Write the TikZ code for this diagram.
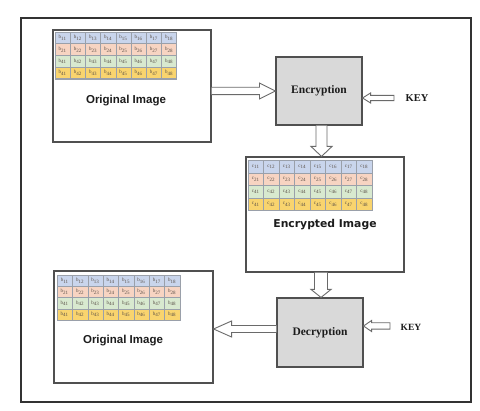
\documentclass[tikz,border=0pt]{standalone}
\usepackage{fontspec}
\setmainfont{Liberation Serif}
\newfontfamily\arialf{Liberation Sans}
\newfontfamily\dejaf{DejaVu Sans}
\usetikzlibrary{calc}
\definecolor{boxline}{HTML}{505050}
\definecolor{frameline}{HTML}{333333}
\definecolor{arrowline}{HTML}{6A6A6A}
\definecolor{procfill}{HTML}{D9D9D9}
\definecolor{rowA}{HTML}{C9D5EC}
\definecolor{rowB}{HTML}{F7D4C2}
\definecolor{rowC}{HTML}{D8E9CF}
\definecolor{rowD}{HTML}{F9D46E}
\definecolor{cellline}{HTML}{9AA0AA}
\definecolor{celltext}{HTML}{5A5048}
\definecolor{txt}{HTML}{1C1C1C}
\newcommand\mygrid[6]{%
  \foreach \r/\rc/\lab in {1/rowA/1,2/rowB/2,3/rowC/4,4/rowD/4}{
    \foreach \c in {1,...,8}{
      \node[cellbox, fill=\rc, minimum width=#4pt, minimum height=#5pt]
        (#1-\r-\c) at ({#2+(\c-0.5)*#4},{#3+(\r-0.5)*#5}) {#6\textsubscript{\lab\c}};
    }
  }
  \draw[cellline, line width=0.6pt] (#2,#3) rectangle ({#2+8*#4},{#3+4*#5});
}
\begin{document}
\begin{tikzpicture}[x=1pt,y=-1pt,
  imgbox/.style={draw=boxline, line width=1.1pt, fill=white, inner sep=0pt},
  procbox/.style={draw=boxline, line width=1.1pt, fill=procfill, inner sep=0pt,
    font=\bfseries\fontsize{11.5}{12}\selectfont, text=txt},
  cellbox/.style={draw=cellline, line width=0.4pt, inner sep=0pt,
    font=\fontsize{5}{5}\selectfont, text=celltext},
  harrow/.style={draw=arrowline, fill=white, line width=0.9pt, line join=miter},
  keylbl/.style={font=\bfseries\fontsize{10.5}{11}\selectfont, text=txt, inner sep=0pt},
  imglbl/.style={font=\arialf\bfseries\fontsize{11.5}{12}\selectfont, text=txt, inner sep=0pt}
]
\useasboundingbox (0,0) rectangle (480,411);
\fill[white] (0,0) rectangle (480,411);
\draw[frameline, line width=1.4pt] (21,18) rectangle (471,402);

% boxes
\node[imgbox, minimum width=158pt, minimum height=112pt] (box1) at (132,86) {};
\node[procbox, minimum width=86pt, minimum height=68pt] (enc) at (319,91) {Encryption};
\node[imgbox, minimum width=158pt, minimum height=115pt] (encbox) at (325,214.5) {};
\node[procbox, minimum width=86pt, minimum height=69pt] (dec) at (320,332.5) {Decryption};
\node[imgbox, minimum width=159pt, minimum height=112pt] (box2) at (133.5,327) {};

% grids
\mygrid{ga}{55}{32}{15.2}{11.7}{b}
\mygrid{gb}{248}{160.5}{15.5}{12.5}{c}
\mygrid{gc}{57}{275}{15.35}{11.25}{b}

% labels
\node[imglbl] (t1) at (126,101) {Original Image};
\node[font=\dejaf\bfseries\fontsize{10.8}{11}\selectfont, text=txt, inner sep=0pt] (t3) at (325,225) {Encrypted Image};
\node[imglbl] (t2) at (123,341) {Original Image};
\node[keylbl] (key1) at (417,98) {KEY};
\node[keylbl, font=\bfseries\fontsize{9.5}{10}\selectfont] (key2) at (411,327) {KEY};
\coordinate (k1s) at (394,98);
\coordinate (k2s) at (390,326);

% box1 -> enc
\draw[harrow] let \p1=(box1.east), \p2=(enc.west) in
  (\x1,\y2+3.7pt) -- (\x2-16pt,\y2+3.7pt) -- (\x2-16pt,\y2+8pt) -- (\x2,\y2)
  -- (\x2-16pt,\y2-8pt) -- (\x2-16pt,\y2-3.7pt) -- (\x1,\y2-3.7pt);
% key1 -> enc
\draw[harrow] let \p1=(k1s), \p2=(enc.east) in
  (\x1,\y1+2.6pt) -- (\x2+8pt,\y1+2.6pt) -- (\x2+8pt,\y1+5pt) -- (\x2,\y1)
  -- (\x2+8pt,\y1-5pt) -- (\x2+8pt,\y1-2.6pt) -- (\x1,\y1-2.6pt) -- cycle;
% enc -> encbox
\draw[harrow] let \p1=(enc.south), \p2=(encbox.north) in
  (\x1-3pt,\y1) -- (\x1-3pt,\y2+10pt) -- (\x1-8pt,\y2+10pt) -- (\x1+2.5pt,\y2)
  -- (\x1+13pt,\y2+10pt) -- (\x1+8pt,\y2+10pt) -- (\x1+8pt,\y1);
% encbox -> dec
\draw[harrow] let \p1=(encbox.south), \p2=(dec.north) in
  (\x1-10.5pt,\y1) -- (\x1-10.5pt,\y2+8pt) -- (\x1-14pt,\y2+8pt) -- (\x1-4pt,\y2)
  -- (\x1+6pt,\y2+8pt) -- (\x1+2.5pt,\y2+8pt) -- (\x1+2.5pt,\y1);
% key2 -> dec
\draw[harrow] let \p1=(k2s), \p2=(dec.east) in
  (\x1,\y1+3.2pt) -- (\x2+8pt,\y1+3.2pt) -- (\x2+8pt,\y1+5.5pt) -- (\x2,\y1)
  -- (\x2+8pt,\y1-5.5pt) -- (\x2+8pt,\y1-3.2pt) -- (\x1,\y1-3.2pt) -- cycle;
% dec -> box2
\draw[harrow] let \p1=(dec.west), \p2=(box2.east) in
  (\x1,\y1+3.5pt-3.5pt+7pt) -- (\x2+18pt,\y1+7pt) -- (\x2+18pt,\y1+11.5pt) -- (\x2,\y1+3.5pt)
  -- (\x2+18pt,\y1-4.5pt) -- (\x2+18pt,\y1) -- (\x1,\y1);
\end{tikzpicture}
\end{document}
